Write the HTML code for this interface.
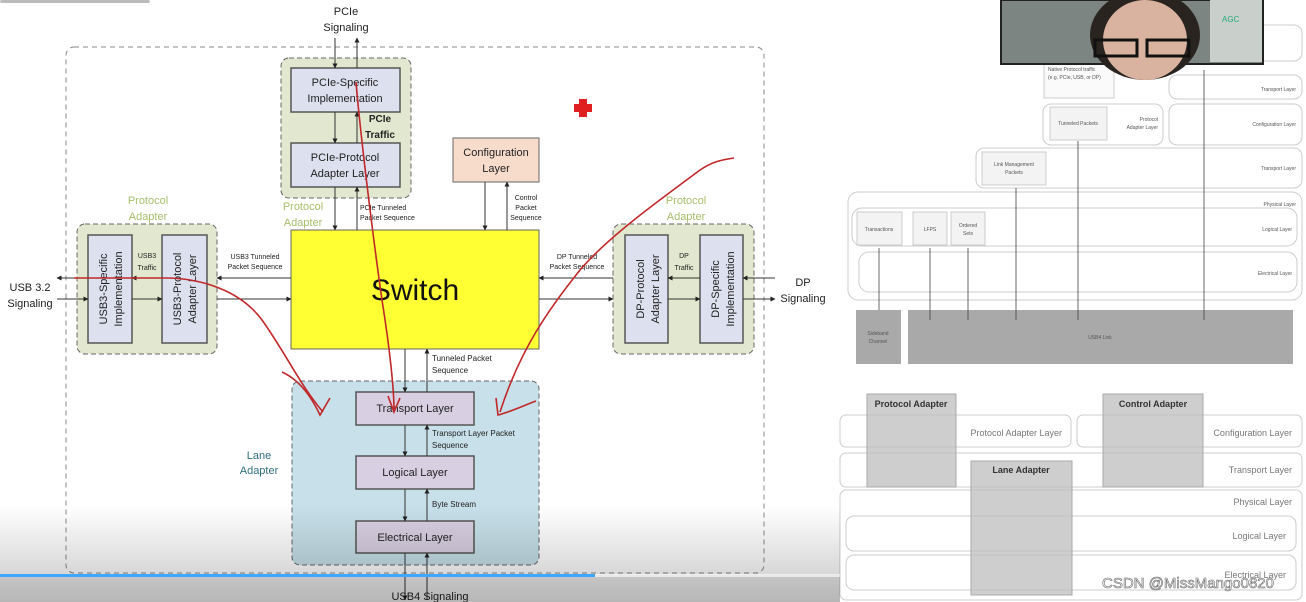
<!DOCTYPE html>
<html><head><meta charset="utf-8"><style>
html,body{margin:0;padding:0;background:#fff;}
svg{display:block;font-family:"Liberation Sans",sans-serif;}
</style></head><body>
<svg width="1306" height="602" viewBox="0 0 1306 602" xmlns="http://www.w3.org/2000/svg">
<defs>
<marker id="a" viewBox="0 0 10 10" refX="9" refY="5" markerWidth="5" markerHeight="5" orient="auto"><path d="M0,0L10,5L0,10z" fill="#222"/></marker>
<linearGradient id="fade" x1="0" y1="0" x2="0" y2="1"><stop offset="0" stop-color="#000" stop-opacity="0"/><stop offset="1" stop-color="#000" stop-opacity="0.22"/></linearGradient>
</defs>
<rect width="1306" height="602" fill="#fff"/>
<rect x="0" y="0" width="150" height="3" rx="2" fill="#bbb"/>
<!-- outer dashed -->
<rect x="66" y="47" width="698" height="526" rx="8" fill="none" stroke="#888" stroke-dasharray="5,4"/>
<!-- PCIe group -->
<rect x="281" y="58" width="130" height="140" rx="8" fill="#e2e8cf" stroke="#666" stroke-dasharray="5,3"/>
<rect x="291" y="68" width="109" height="44" fill="#dde0ee" stroke="#555" stroke-width="1.5"/>
<text x="345" y="86" font-size="11" text-anchor="middle" fill="#222">PCIe-Specific</text>
<text x="345" y="102" font-size="11" text-anchor="middle" fill="#222">Implementation</text>
<rect x="291" y="143" width="109" height="44" fill="#dde0ee" stroke="#555" stroke-width="1.5"/>
<text x="345" y="161" font-size="11" text-anchor="middle" fill="#222">PCIe-Protocol</text>
<text x="345" y="177" font-size="11" text-anchor="middle" fill="#222">Adapter Layer</text>
<text x="380" y="122" font-size="10" text-anchor="middle" fill="#222" font-weight="bold">PCIe</text>
<text x="380" y="138" font-size="10" text-anchor="middle" fill="#222" font-weight="bold">Traffic</text>
<!-- config -->
<rect x="453" y="138" width="86" height="44" fill="#f8dccb" stroke="#666"/>
<text x="496" y="156" font-size="11" text-anchor="middle" fill="#222">Configuration</text>
<text x="496" y="172" font-size="11" text-anchor="middle" fill="#222">Layer</text>
<!-- switch -->
<rect x="291" y="230" width="248" height="119" fill="#ffff33" stroke="#666"/>
<text x="415" y="300" font-size="30" text-anchor="middle" fill="#111">Switch</text>
<!-- USB3 group -->
<rect x="77" y="224" width="140" height="130" rx="8" fill="#e2e8cf" stroke="#666" stroke-dasharray="5,3"/>
<rect x="88" y="235" width="44" height="108" fill="#dde0ee" stroke="#555" stroke-width="1.5"/>
<rect x="162" y="235" width="45" height="108" fill="#dde0ee" stroke="#555" stroke-width="1.5"/>
<text transform="translate(107,289) rotate(-90)" font-size="11" text-anchor="middle" fill="#222">USB3-Specific</text>
<text transform="translate(122,289) rotate(-90)" font-size="11" text-anchor="middle" fill="#222">Implementation</text>
<text transform="translate(181,289) rotate(-90)" font-size="11" text-anchor="middle" fill="#222">USB3-Protocol</text>
<text transform="translate(196,289) rotate(-90)" font-size="11" text-anchor="middle" fill="#222">Adapter Layer</text>
<text x="147" y="258" font-size="7" text-anchor="middle" fill="#222">USB3</text>
<text x="147" y="270" font-size="7" text-anchor="middle" fill="#222">Traffic</text>
<!-- DP group -->
<rect x="613" y="224" width="141" height="130" rx="8" fill="#e2e8cf" stroke="#666" stroke-dasharray="5,3"/>
<rect x="625" y="235" width="43" height="108" fill="#dde0ee" stroke="#555" stroke-width="1.5"/>
<rect x="700" y="235" width="43" height="108" fill="#dde0ee" stroke="#555" stroke-width="1.5"/>
<text transform="translate(644,289) rotate(-90)" font-size="11" text-anchor="middle" fill="#222">DP-Protocol</text>
<text transform="translate(659,289) rotate(-90)" font-size="11" text-anchor="middle" fill="#222">Adapter Layer</text>
<text transform="translate(719,289) rotate(-90)" font-size="11" text-anchor="middle" fill="#222">DP-Specific</text>
<text transform="translate(734,289) rotate(-90)" font-size="11" text-anchor="middle" fill="#222">Implementation</text>
<text x="684" y="258" font-size="7" text-anchor="middle" fill="#222">DP</text>
<text x="684" y="270" font-size="7" text-anchor="middle" fill="#222">Traffic</text>
<!-- lane -->
<rect x="292" y="381" width="247" height="184" rx="8" fill="#c7e0e9" stroke="#666" stroke-dasharray="5,3"/>
<rect x="356" y="392" width="118" height="33" fill="#d8d0e2" stroke="#555" stroke-width="1.5"/>
<text x="415" y="412" font-size="11" text-anchor="middle" fill="#222">Transport Layer</text>
<rect x="356" y="456" width="118" height="33" fill="#d8d0e2" stroke="#555" stroke-width="1.5"/>
<text x="415" y="476" font-size="11" text-anchor="middle" fill="#222">Logical Layer</text>
<rect x="356" y="521" width="118" height="32" fill="#d8d0e2" stroke="#555" stroke-width="1.5"/>
<text x="415" y="541" font-size="11" text-anchor="middle" fill="#222">Electrical Layer</text>
<!-- arrows -->
<g stroke="#333" stroke-width="1" fill="none" marker-end="url(#a)">
<path d="M335,38V68"/><path d="M357,68V38"/>
<path d="M335,112V143"/><path d="M357,143V112"/>
<path d="M335,187V230"/><path d="M357,230V187"/>
<path d="M485,182V230"/><path d="M507,230V182"/>
<path d="M405,349V392"/><path d="M427,392V349"/>
<path d="M405,425V456"/><path d="M427,456V425"/>
<path d="M405,489V521"/><path d="M427,521V489"/>
<path d="M405,553V600"/><path d="M427,600V553"/>
<path d="M291,278H217"/><path d="M217,299H291"/>
<path d="M162,278H132"/><path d="M132,299H162"/>
<path d="M88,278H57"/><path d="M57,299H88"/>
<path d="M613,278H539"/><path d="M539,299H613"/>
<path d="M700,278H668"/><path d="M668,299H700"/>
<path d="M775,278H743"/><path d="M743,299H775"/>
</g>
<g font-size="7" fill="#222" text-anchor="middle">
<text x="255" y="259">USB3 Tunneled</text><text x="255" y="269">Packet Sequence</text>
<text x="577" y="259">DP Tunneled</text><text x="577" y="269">Packet Sequence</text>
<text x="360" y="210" text-anchor="start">PCIe Tunneled</text><text x="360" y="220" text-anchor="start">Packet Sequence</text>
<text x="526" y="200">Control</text><text x="526" y="210">Packet</text><text x="526" y="220">Sequence</text>
<text x="432" y="361" text-anchor="start" font-size="8">Tunneled Packet</text><text x="432" y="373" text-anchor="start" font-size="8">Sequence</text>
<text x="432" y="436" text-anchor="start" font-size="8">Transport Layer Packet</text><text x="432" y="448" text-anchor="start" font-size="8">Sequence</text>
<text x="432" y="507" text-anchor="start" font-size="8">Byte Stream</text>
</g>
<g font-size="11" fill="#a8bd6a" text-anchor="middle">
<text x="148" y="204">Protocol</text><text x="148" y="220">Adapter</text>
<text x="303" y="210">Protocol</text><text x="303" y="226">Adapter</text>
<text x="686" y="204">Protocol</text><text x="686" y="220">Adapter</text>
</g>
<text x="259" y="459" font-size="11" fill="#2f6f80" text-anchor="middle">Lane</text>
<text x="259" y="474" font-size="11" fill="#2f6f80" text-anchor="middle">Adapter</text>
<g font-size="11" fill="#222" text-anchor="middle">
<text x="30" y="291">USB 3.2</text><text x="30" y="307">Signaling</text>
<text x="803" y="286">DP</text><text x="803" y="302">Signaling</text>
<text x="346" y="15">PCIe</text><text x="346" y="31">Signaling</text>
<text x="430" y="600">USB4 Signaling</text>
</g>
<!-- red cross -->
<path d="M579,99h8v5h5v8h-5v5h-8v-5h-5v-8h5z" fill="#e02020"/>
<!-- red strokes -->
<g stroke="#c0282a" stroke-width="1.6" fill="none">
<path d="M74,278H165C200,278 240,290 262,320C285,352 300,385 323,412"/>
<path d="M282,372C300,380 312,398 320,415L330,398"/>
<path d="M356,82C360,130 372,230 382,300C390,350 394,390 394,410M388,396L394,412L400,398"/>
<path d="M734,158C720,160 712,162 700,170C660,200 610,235 580,270C548,310 520,350 500,412M496,398L498,415C510,412 525,405 536,401"/>
</g>
<!-- RIGHT PANEL -->
<g fill="none" stroke="#ccc" stroke-width="1">
<rect x="1169" y="25" width="133" height="36" rx="8"/>
<rect x="1169" y="75" width="133" height="24" rx="8"/>
<rect x="1169" y="104" width="133" height="41" rx="8"/>
<rect x="1044" y="60" width="70" height="38" fill="#fafafa"/>
<rect x="1043" y="104" width="120" height="41" rx="8"/>
<rect x="1050" y="107" width="57" height="33" fill="#f3f3f3"/>
<rect x="976" y="148" width="326" height="40" rx="8"/>
<rect x="982" y="152" width="64" height="33" fill="#f3f3f3"/>
<rect x="848" y="192" width="454" height="108" rx="10"/>
<rect x="852" y="208" width="445" height="38" rx="10"/>
<rect x="859" y="252" width="438" height="40" rx="10"/>
<rect x="857" y="212" width="45" height="33" fill="#f3f3f3"/>
<rect x="913" y="212" width="34" height="33" fill="#f3f3f3"/>
<rect x="951" y="212" width="34" height="33" fill="#f3f3f3"/>
</g>
<rect x="856" y="310" width="45" height="54" fill="#a9a9a9"/>
<rect x="908" y="310" width="385" height="54" fill="#a9a9a9"/>
<g stroke="#444" stroke-width="0.8">
<path d="M879,248V310M930,248V320M968,248V320M1016,188V320M1078,141V320M1204,70V320"/>
</g>
<g font-size="5" fill="#555">
<text x="1296" y="91" text-anchor="end">Transport Layer</text>
<text x="1296" y="126" text-anchor="end">Configuration Layer</text>
<text x="1158" y="121" text-anchor="end">Protocol</text><text x="1158" y="129" text-anchor="end">Adapter Layer</text>
<text x="1078" y="125" text-anchor="middle">Tunneled Packets</text>
<text x="1048" y="71">Native Protocol traffic</text><text x="1048" y="79">(e.g. PCIe, USB, or DP)</text>
<text x="1296" y="170" text-anchor="end">Transport Layer</text>
<text x="1014" y="166" text-anchor="middle">Link Management</text><text x="1014" y="174" text-anchor="middle">Packets</text>
<text x="1296" y="206" text-anchor="end">Physical Layer</text>
<text x="1292" y="231" text-anchor="end">Logical Layer</text>
<text x="1292" y="275" text-anchor="end">Electrical Layer</text>
<text x="879" y="231" text-anchor="middle">Transactions</text>
<text x="930" y="231" text-anchor="middle">LFPS</text>
<text x="968" y="227" text-anchor="middle">Ordered</text><text x="968" y="235" text-anchor="middle">Sets</text>
<text x="878" y="335" text-anchor="middle">Sideband</text><text x="878" y="343" text-anchor="middle">Channel</text>
<text x="1100" y="339" text-anchor="middle">USB4 Link</text>
</g>
<g fill="none" stroke="#ccc">
<rect x="840" y="415" width="231" height="32" rx="6"/>
<rect x="1077" y="415" width="225" height="32" rx="6"/>
<rect x="840" y="453" width="462" height="34" rx="6"/>
<rect x="840" y="490" width="462" height="110" rx="6"/>
<rect x="846" y="516" width="450" height="35" rx="8"/>
<rect x="846" y="555" width="450" height="35" rx="8"/>
</g>
<g font-size="9" fill="#777" text-anchor="end">
<text x="1062" y="436">Protocol Adapter Layer</text>
<text x="1292" y="436">Configuration Layer</text>
<text x="1292" y="473">Transport Layer</text>
<text x="1292" y="505">Physical Layer</text>
<text x="1286" y="539">Logical Layer</text>
<text x="1286" y="578">Electrical Layer</text>
</g>
<g fill="#bdbdbd" fill-opacity="0.75" stroke="#aaa">
<rect x="867" y="394" width="89" height="93"/>
<rect x="1103" y="394" width="100" height="93"/>
<rect x="971" y="461" width="101" height="134"/>
</g>
<g font-size="9" font-weight="bold" fill="#333" text-anchor="middle">
<text x="911" y="407">Protocol Adapter</text>
<text x="1153" y="407">Control Adapter</text>
<text x="1021" y="473">Lane Adapter</text>
</g>
<!-- webcam -->
<rect x="1001" y="0" width="262" height="64" fill="#7d8582" stroke="#222" stroke-width="2"/>
<rect x="1210" y="0" width="52" height="62" fill="#c9d0cc"/>
<ellipse cx="1145" cy="35" rx="55" ry="45" fill="#2a2420"/>
<ellipse cx="1145" cy="40" rx="42" ry="40" fill="#d9b3a0"/>
<rect x="1095" y="40" width="42" height="16" fill="none" stroke="#111" stroke-width="3"/>
<rect x="1147" y="40" width="42" height="16" fill="none" stroke="#111" stroke-width="3"/>
<text x="1222" y="22" font-size="8" fill="#2a7">AGC</text>
<!-- bottom fade & bar -->
<rect x="0" y="505" width="840" height="97" fill="url(#fade)"/>
<rect x="0" y="575" width="840" height="27" fill="#000" fill-opacity="0.08"/>
<rect x="0" y="574" width="595" height="3" fill="#3ea6ff"/>
<rect x="595" y="574" width="245" height="3" fill="#fff" fill-opacity="0.6"/>
<text x="1188" y="588" font-size="15" fill="#fff" stroke="#666" stroke-width="0.6" text-anchor="middle">CSDN @MissMango0820</text>
</svg>
</body></html>
